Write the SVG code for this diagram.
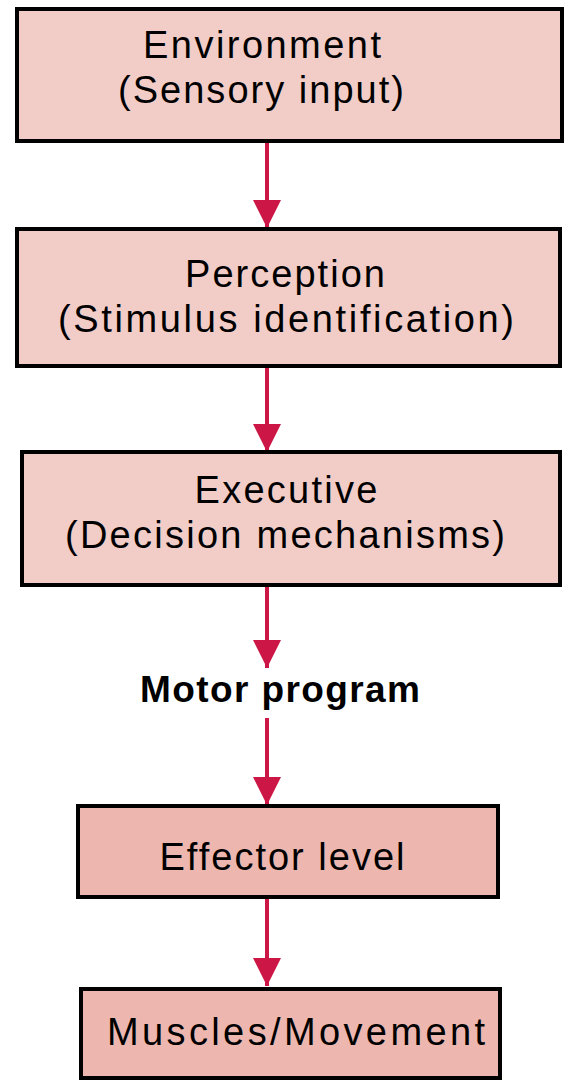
<svg xmlns="http://www.w3.org/2000/svg" width="576" height="1092" viewBox="0 0 576 1092">
<defs>
<style>
.box{fill:#F2CDC8;stroke:#000;stroke-width:4}
.box2{fill:#EDB7AF;stroke:#000;stroke-width:4}
.t{font-family:"Liberation Sans",Arial,sans-serif;font-size:38px;fill:#000;text-anchor:middle}
.b{font-family:"Liberation Sans",Arial,sans-serif;font-size:37px;font-weight:bold;fill:#000;text-anchor:middle}
.c{stroke:#CC1646;stroke-width:4;fill:none}
</style>
<marker id="ah" markerUnits="userSpaceOnUse" markerWidth="28" markerHeight="32" refX="28" refY="14" orient="auto">
<path d="M0,0 L28,14 L0,28 Z" fill="#CC1646"/>
</marker>
</defs>
<rect width="576" height="1092" fill="#fff"/>
<g id="connectors">
<line class="c" x1="267" y1="142" x2="267" y2="228" marker-end="url(#ah)"/>
<line class="c" x1="267" y1="366" x2="267" y2="452" marker-end="url(#ah)"/>
<line class="c" x1="267" y1="586" x2="267" y2="668" marker-end="url(#ah)"/>
<line class="c" x1="267" y1="718" x2="267" y2="805" marker-end="url(#ah)"/>
<line class="c" x1="267" y1="897" x2="267" y2="986" marker-end="url(#ah)"/>
</g>
<g id="environment">
<rect class="box" x="17" y="9" width="545" height="132"/>
<text class="t" x="262" y="58" textLength="238" lengthAdjust="spacing">Environment</text>
<text class="t" x="261" y="103" textLength="286" lengthAdjust="spacing">(Sensory input)</text>
</g>
<g id="perception">
<rect class="box" x="17" y="229" width="543" height="137"/>
<text class="t" x="285" y="287" textLength="200" lengthAdjust="spacing">Perception</text>
<text class="t" x="286" y="332" textLength="456" lengthAdjust="spacing">(Stimulus identification)</text>
</g>
<g id="executive">
<rect class="box" x="22" y="452" width="538" height="133"/>
<text class="t" x="286" y="503" textLength="183" lengthAdjust="spacing">Executive</text>
<text class="t" x="285" y="548" textLength="440" lengthAdjust="spacing">(Decision mechanisms)</text>
</g>
<g id="motor-program">
<text class="b" x="280" y="702" textLength="280" lengthAdjust="spacing">Motor program</text>
</g>
<g id="effector">
<rect class="box2" x="78" y="806" width="420" height="91"/>
<text class="t" x="282" y="870" textLength="245" lengthAdjust="spacing">Effector level</text>
</g>
<g id="muscles">
<rect class="box2" x="81" y="989" width="419" height="89"/>
<text class="t" x="296" y="1045" textLength="378" lengthAdjust="spacing">Muscles/Movement</text>
</g>
</svg>
